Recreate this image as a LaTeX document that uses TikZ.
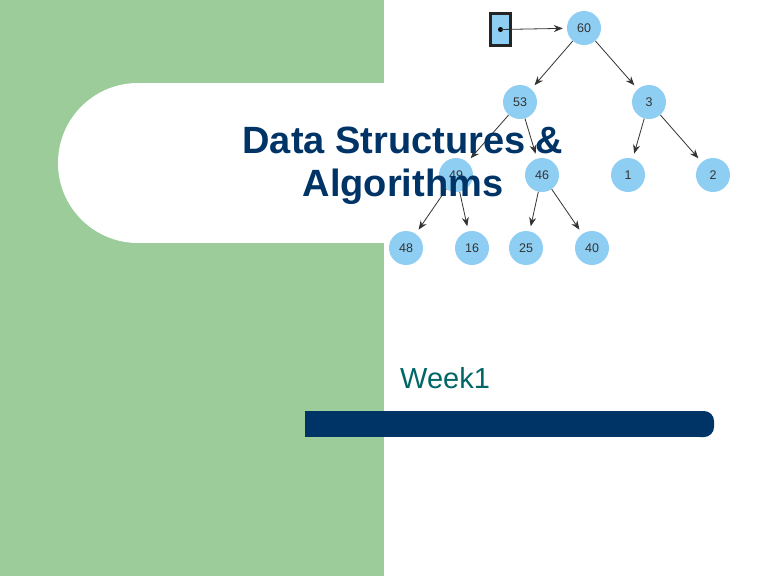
\documentclass[tikz,border=0pt]{standalone}
\usepackage{fontspec}
\setmainfont{Liberation Sans}
\usetikzlibrary{arrows.meta}
\definecolor{slidegreen}{RGB}{156,204,153}
\definecolor{navy}{RGB}{0,51,102}
\definecolor{teal}{RGB}{0,102,102}
\definecolor{keyblue}{RGB}{143,206,243}
\definecolor{inkgray}{RGB}{51,51,51}

\begin{document}
\begin{tikzpicture}[x=1pt, y=-1pt,
  key/.style={circle, fill=keyblue, minimum size=34pt, inner sep=0pt,
    text=inkgray, font=\fontsize{12.5}{12.5}\selectfont},
  ptrbox/.style={rectangle, draw=inkgray!70!black, line width=3pt, fill=keyblue,
    minimum width=20pt, minimum height=32pt, inner sep=0pt},
  edge/.style={draw=inkgray, line width=0.8pt, shorten >=5pt,
    -{Stealth[length=9pt, width=7pt]}},
  title/.style={text=navy, font=\fontsize{38}{38}\selectfont\bfseries, anchor=base}]
  \useasboundingbox (0,0) rectangle (768,576);

  % background
  \fill[white] (0,0) rectangle (768,576);
  \fill[slidegreen] (0,0) rectangle (384,576);

  % white rounded band
  \fill[white] (138,163) circle[radius=80pt];
  \fill[white] (138,83) rectangle (420,243);

  % bar
  \fill[navy] (305,411) rectangle (704,437);
  \fill[navy, rounded corners=10pt] (690,411) rectangle (714,437);

  % tree keys
  \foreach \name/\x/\y in {60/584/28, 53/520/102, 3/649/102,
      49/456/175, 46/542/175, 1/628/175, 2/713/175,
      48/406/248, 16/472/248, 25/526/248, 40/592/248}
    \node[key] (n\name) at (\x,\y) {\name};

  % tree edges
  \foreach \a/\b in {60/53, 60/3, 53/49, 53/46, 3/1, 3/2,
      49/48, 49/16, 46/25, 46/40}
    \draw[edge] (n\a) -- (n\b);

  % root pointer
  \node[ptrbox] (ptr) at (500.5,29.5) {};
  \fill[black] (ptr.center) circle[radius=2.5pt];
  \draw[edge, shorten >=4pt] (ptr.center) -- (n60);

  % title
  \node[title] (title1) at (403,153) {Data Structures \&};
  \node[title] (title2) at (403,196) {Algorithms};

  % subtitle
  \node[anchor=base west, inner sep=0pt, text=teal,
    font=\fontsize{29}{29}\selectfont] (week) at (400,388) {Week1};
\end{tikzpicture}
\end{document}
